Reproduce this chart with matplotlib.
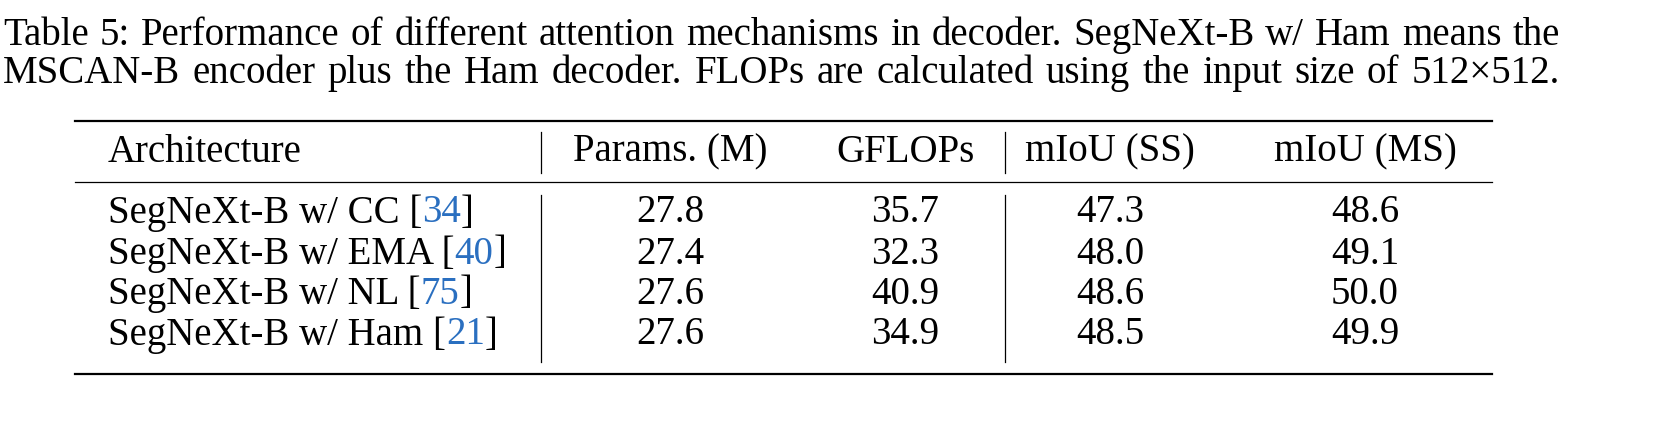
import matplotlib
matplotlib.use("Agg")
import matplotlib.pyplot as plt

archs = ["SegNeXt-B w/ CC", "SegNeXt-B w/ EMA", "SegNeXt-B w/ NL", "SegNeXt-B w/ Ham"]
cites = ["34", "40", "75", "21"]
params = ["27.8", "27.4", "27.6", "27.6"]
gflops = ["35.7", "32.3", "40.9", "34.9"]
miou_ss = ["47.3", "48.0", "48.6", "48.5"]
miou_ms = ["48.6", "49.1", "50.0", "49.9"]
headers = ["Architecture", "Params. (M)", "GFLOPs", "mIoU (SS)", "mIoU (MS)"]
caption = ["Table 5: Performance of different attention mechanisms in decoder. SegNeXt-B w/ Ham means the",
           "MSCAN-B encoder plus the Ham decoder. FLOPs are calculated using the input size of 512×512."]

W, H = 1678, 422
fig = plt.figure(figsize=(W/100, H/100), dpi=100)
ax = fig.add_axes([0, 0, 1, 1])
ax.set_xlim(0, W); ax.set_ylim(H, 0); ax.axis("off")
FS = 28
font = dict(family="Liberation Serif", fontsize=FS, color="black")
blue = "#2a6fc0"

fig.canvas.draw()
r = fig.canvas.get_renderer()

def width(s):
    t = ax.text(0, 0, s, **font)
    w = t.get_window_extent(r).width
    t.remove()
    return w

for i, (line, y) in enumerate(zip(caption, [45, 83])):
    words = line.split(" ")
    total = sum(width(w) for w in words)
    x0, x1 = 3, 1560
    gap = (x1 - x0 - total) / (len(words) - 1)
    x = x0
    for w in words:
        ax.text(x, y, w, va="baseline", ha="left", **font)
        x += width(w) + gap

ax.plot([75, 1492], [121, 121], color="black", lw=1.6)
ax.plot([75, 1492], [182, 182], color="black", lw=0.9)
ax.plot([75, 1492], [374, 374], color="black", lw=1.6)
for xv in [541, 1005]:
    ax.plot([xv, xv], [132, 173], color="black", lw=0.9)
    ax.plot([xv, xv], [195, 362], color="black", lw=0.9)

cx = [670, 905, 1110, 1365]
hy = 152
ax.text(108, hy, headers[0], va="center", ha="left", **font)
for c, h in zip(cx, headers[1:]):
    ax.text(c, hy, h, va="center", ha="center", **font)

rows_y = [213, 254, 294, 335]
for i, y in enumerate(rows_y):
    x = 108
    for s, col in [(archs[i] + " [", "black"), (cites[i], blue), ("]", "black")]:
        f = dict(font); f["color"] = col
        ax.text(x, y, s, va="center", ha="left", **f)
        x += width(s)
    for c, v in zip(cx, [params[i], gflops[i], miou_ss[i], miou_ms[i]]):
        ax.text(c, y, v, va="center", ha="center", **font)

fig.savefig("out.png", dpi=100, facecolor="white")
